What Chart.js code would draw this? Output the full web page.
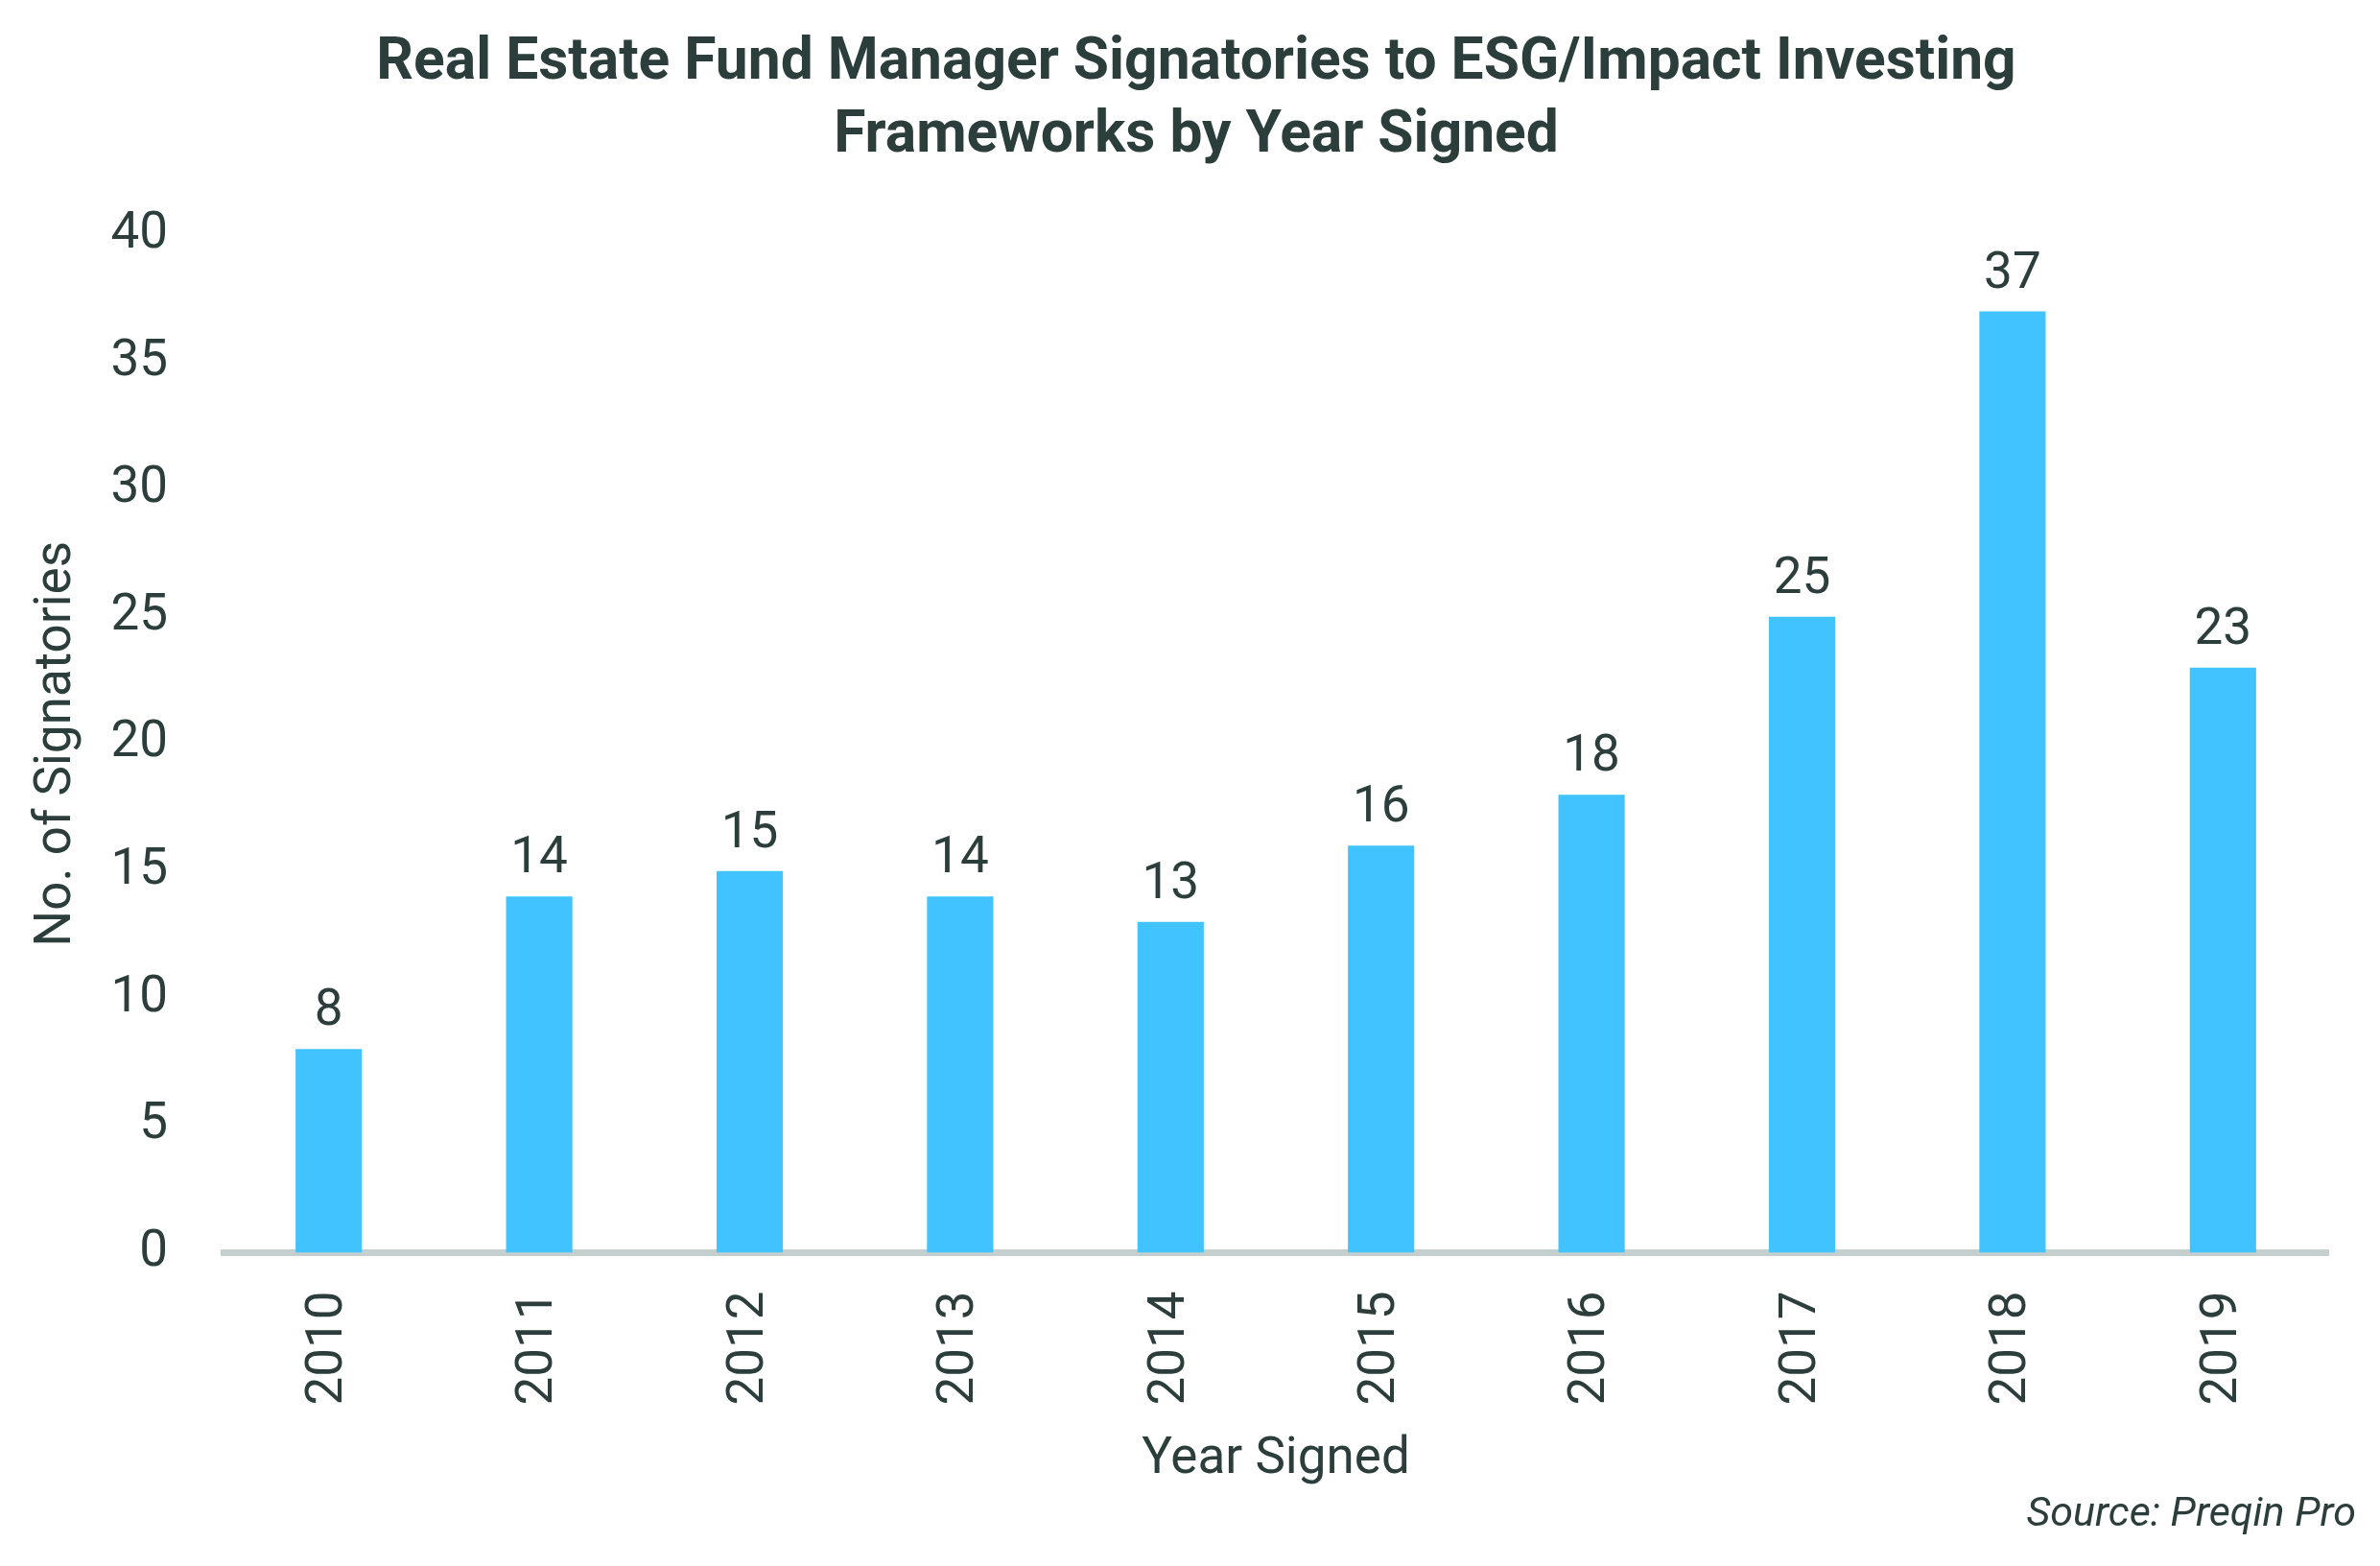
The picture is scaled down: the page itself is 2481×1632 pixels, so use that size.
<!DOCTYPE html>
<html lang="en">
<head>
    <meta charset="UTF-8">
    <title>Real Estate Fund Manager Signatories to ESG/Impact Investing Frameworks</title>
    <script src="https://cdn.jsdelivr.net/npm/chart.js@4.4.1/dist/chart.umd.min.js"></script>
    <style>
        html, body { margin: 0; padding: 0; background: #ffffff; }
        canvas { display: block; }
    </style>
</head>
<body>
    <canvas id="signatoriesChart" width="2481" height="1632"></canvas>

    <script>
        // Chart data
        const years = ['2010', '2011', '2012', '2013', '2014', '2015', '2016', '2017', '2018', '2019'];
        const signatories = [8, 14, 15, 14, 13, 16, 18, 25, 37, 23];
        const yTickValues = [0, 5, 10, 15, 20, 25, 30, 35, 40];

        const titleLines = [
            'Real Estate Fund Manager Signatories to ESG/Impact Investing',
            'Frameworks by Year Signed'
        ];
        const xAxisTitle = 'Year Signed';
        const yAxisTitle = 'No. of Signatories';
        const sourceNote = 'Source: Preqin Pro';

        const textColor = '#2c3e3b';
        const barColor = '#40c3fe';
        const axisColor = '#c5d0ce';

        Chart.defaults.font.family = 'Roboto, "Open Sans", sans-serif';
        Chart.defaults.color = textColor;

        // Fit the title size so the first line spans about the same width as in the original
        function fitTitleSize(text, targetWidth) {
            const ctx = document.createElement('canvas').getContext('2d');
            ctx.font = 'bold 100px Roboto';
            const w = ctx.measureText(text).width;
            return Math.round(100 * targetWidth / w * 10) / 10;
        }
        const titleSize = fitTitleSize(titleLines[0], 1710);

        // Value labels above each bar
        const valueLabels = {
            id: 'valueLabels',
            afterDatasetsDraw(chart) {
                const ctx = chart.ctx;
                const meta = chart.getDatasetMeta(0);
                ctx.save();
                ctx.font = '53px Roboto';
                ctx.fillStyle = textColor;
                ctx.textAlign = 'center';
                ctx.textBaseline = 'alphabetic';
                meta.data.forEach((bar, i) => {
                    ctx.fillText(String(signatories[i]), bar.x, bar.y - 25);
                });
                ctx.restore();
            }
        };

        const ctx = document.getElementById('signatoriesChart').getContext('2d');
        const chart = new Chart(ctx, {
            type: 'bar',
            data: {
                labels: years,
                datasets: [{
                    label: yAxisTitle,
                    data: signatories,
                    backgroundColor: barColor,
                    borderWidth: 0,
                    barPercentage: 0.315,
                    categoryPercentage: 1.0
                }]
            },
            options: {
                responsive: false,
                devicePixelRatio: 1,
                animation: false,
                layout: {
                    padding: { left: 38, right: 25, top: 0, bottom: 0 }
                },
                plugins: {
                    legend: { display: false },
                    tooltip: { enabled: false },
                    title: {
                        display: true,
                        text: titleLines,
                        color: textColor,
                        font: { size: titleSize, weight: 'bold', lineHeight: '76px' },
                        padding: { top: 29, bottom: 64 }
                    },
                    subtitle: {
                        display: true,
                        position: 'bottom',
                        align: 'end',
                        text: sourceNote,
                        color: textColor,
                        font: { size: 43, style: 'italic', lineHeight: 1.2 },
                        padding: { top: 0, bottom: 27 }
                    }
                },
                scales: {
                    x: {
                        z: 1,
                        grid: { display: false, drawTicks: false },
                        border: { display: true, color: axisColor, width: 7 },
                        ticks: {
                            color: textColor,
                            font: { size: 53 },
                            padding: 40,
                            minRotation: 90,
                            maxRotation: 90,
                            autoSkip: false
                        },
                        title: {
                            display: true,
                            text: xAxisTitle,
                            color: textColor,
                            font: { size: 53, lineHeight: 1.2 },
                            padding: { top: 0, bottom: 0 }
                        },
                        afterFit(scale) { scale.height = 248; }
                    },
                    y: {
                        min: 0,
                        max: 40,
                        grid: { display: false, drawTicks: false },
                        border: { display: false },
                        ticks: {
                            color: textColor,
                            font: { size: 53 },
                            padding: 58
                        },
                        afterBuildTicks(scale) {
                            scale.ticks = yTickValues.map(v => ({ value: v }));
                        },
                        title: {
                            display: true,
                            text: yAxisTitle,
                            color: textColor,
                            font: { size: 53, lineHeight: '44px' },
                            padding: { top: 0, bottom: 0 }
                        },
                        afterFit(scale) { scale.width = 195; }
                    },
                    // empty spacer on the right so the plot ends where the original does
                    spacer: {
                        type: 'linear',
                        position: 'right',
                        display: true,
                        grid: { display: false, drawTicks: false },
                        border: { display: false },
                        ticks: { display: false },
                        afterFit(scale) { scale.width = 29; }
                    }
                }
            },
            plugins: [valueLabels]
        });
    </script>
</body>
</html>
